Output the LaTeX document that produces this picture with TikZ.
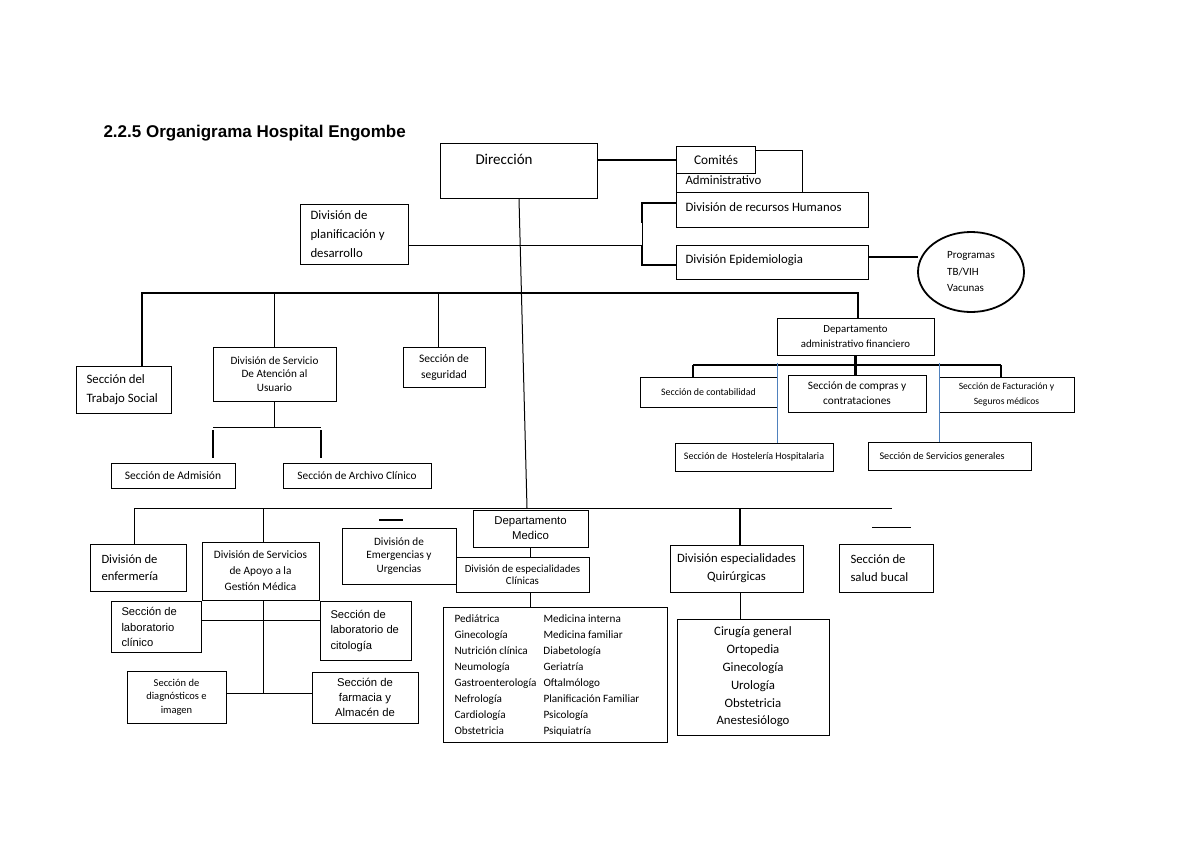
\documentclass[tikz,border=0pt]{standalone}
\usepackage{fontspec}
\setmainfont{Carlito}
\newfontfamily\arialfont{Liberation Sans}
\usetikzlibrary{shapes.geometric}
\definecolor{linkblue}{RGB}{79,129,189}
\newcommand{\setfs}[2]{\fontsize{#1}{#2}\selectfont}
\tikzset{
  box/.style={draw, fill=white, line width=1pt, inner sep=0pt, align=center},
  lbox/.style={box, anchor=north west, align=flush left},
  heavy/.style={line width=2.6pt},
  mid/.style={line width=1.6pt},
  link/.style={line width=1pt},
  blueline/.style={draw=linkblue, line width=1pt}
}

\begin{document}
\begin{tikzpicture}[x=1pt, y=-1pt]
\fill[white] (0,0) rectangle (1200,849);
\useasboundingbox (0,0) rectangle (1200,849);

\node[anchor=base west, font=\arialfont\bfseries\setfs{17}{20}] (title) at (100,137) {2.2.5 Organigrama Hospital Engombe};

% direccion y staff
\node[lbox, text width=87pt, inner xsep=35pt, text height=21pt, text depth=34pt, font=\setfs{15}{18}] (dir) at (440,143) {Dirección};
\node[lbox, text width=108pt, inner xsep=9pt, text height=34pt, text depth=8pt, font=\setfs{12.8}{15}] (admtv) at (676,150) {Administrativo};
\node[box, anchor=north west, minimum width=79pt, minimum height=27pt, font=\setfs{13.3}{15}] (comites) at (676,146) {Comités};
\node[lbox, text width=174pt, inner xsep=9pt, text height=18.5pt, text depth=16.5pt, font=\setfs{12.8}{15}] (rh) at (676,192) {División de recursos Humanos};
\node[lbox, text width=174pt, inner xsep=9pt, text height=17.5pt, text depth=16.5pt, font=\setfs{12.8}{15}] (epi) at (676,245) {División Epidemiologia};
\node[draw, ellipse, line width=1.8pt, minimum width=106pt, minimum height=80pt, inner sep=0pt, align=flush left, font=\setfs{11}{16.5}] (prog) at (971,272) {Programas\\TB/VIH\\Vacunas};
\node[lbox, text width=88pt, inner xsep=10pt, minimum height=60pt, font=\setfs{12.8}{19}] (plan) at (300,204) {División de\\planificación y\\desarrollo};

% primer nivel
\node[lbox, text width=75pt, inner xsep=10pt, minimum height=47pt, font=\setfs{12.8}{19}] (trab) at (76,366) {Sección del\\Trabajo Social};
\node[box, minimum width=123pt, minimum height=54pt, font=\setfs{11.2}{13.5}] (divserv) at (274.5,374) {División de Servicio\\De Atención al\\Usuario};
\node[box, minimum width=82pt, minimum height=40pt, font=\setfs{11.5}{16}] (segur) at (444,367) {Sección de\\seguridad};
\node[box, minimum width=124pt, minimum height=25pt, font=\setfs{11.5}{14}] (admis) at (173,475.5) {Sección de Admisión};
\node[box, minimum width=148pt, minimum height=25pt, font=\setfs{11.3}{14}] (archivo) at (357,475.5) {Sección de Archivo Clínico};

% administrativo financiero
\node[box, minimum width=157pt, minimum height=37pt, font=\setfs{10.8}{15}] (adm) at (855.5,336.5) {Departamento\\administrativo financiero};
\node[box, minimum width=137pt, minimum height=30pt, font=\setfs{9.9}{14}] (contab) at (708.5,392) {Sección de contabilidad};
\node[box, minimum width=138pt, minimum height=37pt, font=\setfs{11.3}{15}] (compras) at (857,393.5) {Sección de compras y\\contrataciones};
\node[box, minimum width=135pt, minimum height=35pt, font=\setfs{9.6}{15}] (factur) at (1006.5,394.5) {Sección de Facturación y\\Seguros médicos};
\node[box, minimum width=158pt, minimum height=28pt, font=\setfs{10}{14}] (hostel) at (754,457) {Sección de\ \ Hostelería Hospitalaria};
\node[lbox, text width=141pt, inner xsep=11pt, minimum height=28pt, font=\setfs{10.2}{14}] (servgen) at (868,442) {Sección de Servicios generales};

% nivel medico
\node[lbox, text width=74pt, inner xsep=11pt, minimum height=47pt, font=\setfs{12.6}{17}] (enferm) at (90,544) {División de\\enfermería};
\node[box, minimum width=117pt, minimum height=58pt, font=\setfs{11.3}{16}] (apoyo) at (260.5,571) {División de Servicios\\de Apoyo a la\\Gestión Médica};
\node[lbox, text width=70pt, inner xsep=10pt, minimum height=51pt, font=\arialfont\setfs{11.2}{15.5}] (labcl) at (111,601) {Sección de\\laboratorio\\clínico};
\node[lbox, text width=71pt, inner xsep=10pt, minimum height=59pt, font=\arialfont\setfs{11.2}{15.5}] (labcit) at (320,601) {Sección de\\laboratorio de\\citología};
\node[box, minimum width=99pt, minimum height=52pt, font=\setfs{10.5}{13.5}] (diag) at (176.5,697) {Sección de\\diagnósticos e\\imagen};
\node[box, minimum width=106pt, minimum height=51pt, font=\arialfont\setfs{11.3}{15}] (farm) at (365,697.5) {Sección de\\farmacia y\\Almacén de};
\node[box, minimum width=114pt, minimum height=56pt, font=\setfs{11.2}{13.5}] (emerg) at (399,556) {División de\\Emergencias y\\Urgencias};
\node[box, minimum width=115pt, minimum height=37pt, font=\arialfont\setfs{11.4}{15}] (med) at (530.5,528.5) {Departamento\\Medico};
\node[box, minimum width=133pt, minimum height=35pt, font=\setfs{10.9}{12.5}] (clin) at (522.5,574.5) {División de especialidades\\Clínicas};
\node[lbox, text width=202pt, inner xsep=11pt, minimum height=135pt, font=\setfs{11.2}{16}] (clinlist) at (443,607) {%
  \begin{tabular}{@{}p{89pt}@{}l@{}}
  Pediátrica & Medicina interna\\
  Ginecología & Medicina familiar\\
  Nutrición clínica & Diabetología\\
  Neumología & Geriatría\\
  Gastroenterología & Oftalmólogo\\
  Nefrología & Planificación Familiar\\
  Cardiología & Psicología\\
  Obstetricia & Psiquiatría
  \end{tabular}};
\node[box, minimum width=133pt, minimum height=47pt, font=\setfs{12.7}{18}] (quir) at (736.5,568.5) {División especialidades\\Quirúrgicas};
\node[box, minimum width=152pt, minimum height=116pt, font=\setfs{12.8}{17.8}] (quirlist) at (753,677) {Cirugía general\\Ortopedia\\Ginecología\\Urología\\Obstetricia\\Anestesiólogo};
\node[lbox, text width=72pt, inner xsep=11pt, minimum height=48pt, font=\setfs{12.7}{18}] (bucal) at (839,544) {Sección de\\salud bucal};

% conectores de la direccion
\draw[heavy] (dir.east |- comites.west) -- (comites.west);
\coordinate (bt) at (642,203);
\coordinate (bm) at (642,245);
\coordinate (bb) at (642,265);
\draw[heavy] (bt -| rh.west) -- (bt) -- ([yshift=-20pt]bt);
\draw[link] (bt) -- (bb);
\draw[heavy] (bb -| epi.west) -- (bb) -- (bm);
\draw[link] (plan.east |- bm) -- (bm);
\coordinate (pe) at (918,257);
\draw[mid] (epi.east |- pe) -- (pe);
\coordinate (mt) at (527,508);
\draw[link] (dir.south) -- (mt);

% barra superior
\coordinate (tl) at (142,293);
\coordinate (tr) at (858,293);
\coordinate (ts) at (438,293);
\draw[heavy] (tl |- trab.north) -- (tl) -- (tr) -- (tr |- adm.north);
\draw[link] (divserv.north) -- (divserv.north |- tl);
\draw[link] (ts) -- (ts |- segur.north);

% atencion al usuario
\coordinate (sl) at (213,427);
\coordinate (sr) at (321,427);
\draw[mid] (divserv.south) -- (divserv.south |- sl);
\draw[link] (sl) -- (sr);
\draw[line width=2pt] ([yshift=-3pt]sl) -- ([yshift=-31pt]sl);
\draw[line width=2pt] ([yshift=-3pt]sr) -- ([yshift=-31pt]sr);

% administrativo financiero
\coordinate (al) at (693,365);
\coordinate (ar) at (1001,365);
\coordinate (bl1) at (777,363);
\coordinate (bl2) at (939,363);
\draw[heavy] (adm.south) -- (adm.south |- compras.north);
\draw[mid] (al) -- (ar);
\draw[heavy] (al) -- (al |- contab.north);
\draw[heavy] (ar) -- (ar |- factur.north);
\draw[blueline] (bl1) -- (bl1 |- hostel.north);
\draw[blueline] (bl2) -- (bl2 |- servgen.north);

% barra inferior
\coordinate (bl) at (134,508);
\coordinate (br) at (892,508);
\coordinate (ap) at (263,508);
\coordinate (qt) at (740,508);
\draw[link] (bl |- enferm.north) -- (bl) -- (br);
\draw[link] (ap) -- (ap |- apoyo.north);
\draw[heavy] (qt) -- (qt |- quir.north);
\draw[heavy] (379,520) -- (403,520);
\draw[link] (872,527) -- (911,527);

% apoyo a la gestion
\coordinate (lm) at (263,620);
\coordinate (ab) at (263,693);
\draw[link] (ab |- apoyo.south) -- (ab);
\draw[link] (lm -| labcl.east) -- (lm -| labcit.west);
\draw[link] (diag.east |- ab) -- (ab -| farm.west);

% especialidades
\draw[link] (med.south) -- (med.south |- clin.north);
\draw[link] (med.south |- clin.south) -- (med.south |- clinlist.north);
\draw[link] (qt |- quir.south) -- (qt |- quirlist.north);
\end{tikzpicture}
\end{document}
